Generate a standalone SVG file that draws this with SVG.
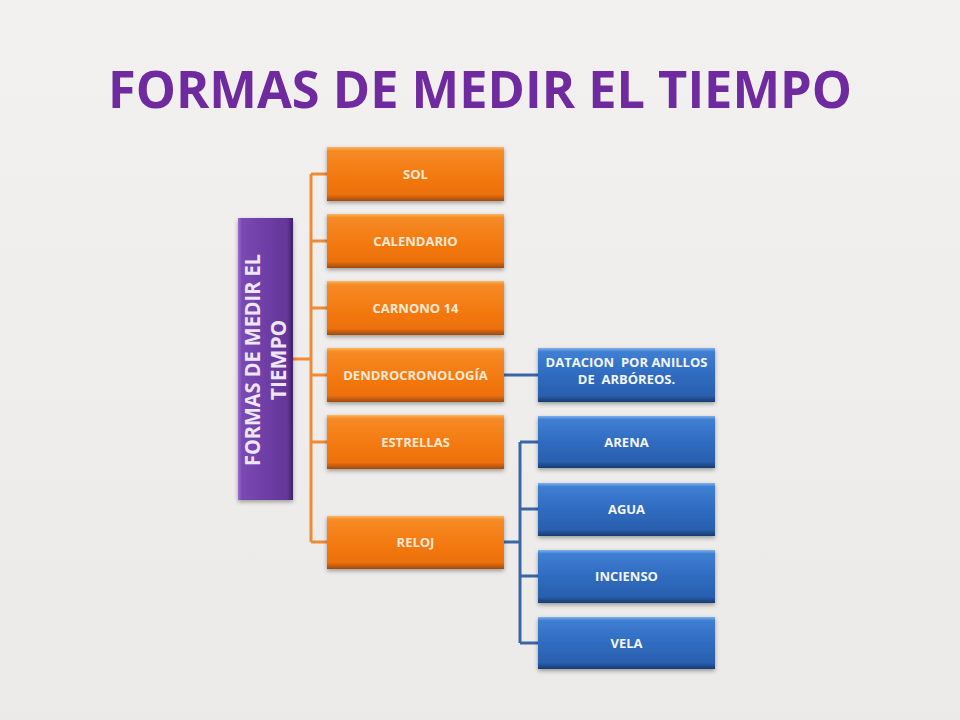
<svg xmlns="http://www.w3.org/2000/svg" width="960" height="720" viewBox="0 0 960 720">
<defs>
<linearGradient id="bg" x1="0" y1="0" x2="0" y2="1">
<stop offset="0" stop-color="#F2F1EF"/><stop offset="1" stop-color="#EBEAE8"/>
</linearGradient>
<linearGradient id="og" x1="0" y1="0" x2="0" y2="1">
<stop offset="0" stop-color="#FBB561"/><stop offset="0.07" stop-color="#F68A25"/><stop offset="0.5" stop-color="#F47B12"/><stop offset="0.88" stop-color="#EC700B"/><stop offset="1" stop-color="#9E4A08"/>
</linearGradient>
<linearGradient id="bgr" x1="0" y1="0" x2="0" y2="1">
<stop offset="0" stop-color="#7FB0EC"/><stop offset="0.07" stop-color="#3F7FD2"/><stop offset="0.5" stop-color="#2F6BC0"/><stop offset="0.88" stop-color="#2A60AE"/><stop offset="1" stop-color="#173C70"/>
</linearGradient>
<linearGradient id="pg" x1="0" y1="0" x2="1" y2="0">
<stop offset="0" stop-color="#9A6CD0"/><stop offset="0.07" stop-color="#7A4AB2"/><stop offset="0.5" stop-color="#6E3EA6"/><stop offset="0.9" stop-color="#643698"/><stop offset="1" stop-color="#3E1E66"/>
</linearGradient>
<filter id="sh" x="-10%" y="-10%" width="120%" height="140%">
<feDropShadow dx="0" dy="2" stdDeviation="2" flood-color="#000" flood-opacity="0.35"/>
</filter>
</defs>
<style>
.ol{fill:url(#og);filter:url(#sh)}
.bl{fill:url(#bgr);filter:url(#sh)}
.ot{font-family:"Open Sans","Liberation Sans",sans-serif;font-weight:bold;font-size:13px;fill:#FDE9D4;text-anchor:middle}
.bt{font-family:"Open Sans","Liberation Sans",sans-serif;font-weight:bold;font-size:13px;fill:#F4F6FA;text-anchor:middle}
.oc{stroke:#EF8A35;stroke-width:3;fill:none}
.bc{stroke:#3A66A8;stroke-width:3;fill:none}
</style>
<rect width="960" height="720" fill="url(#bg)"/>
<text x="480" y="108" font-family="'Open Sans','Liberation Sans',sans-serif" font-weight="bold" font-size="52" fill="#6E2A9E" text-anchor="middle" textLength="744" lengthAdjust="spacingAndGlyphs">FORMAS DE MEDIR EL TIEMPO</text>
<g id="connectors">
<path class="oc" d="M293 359H311M311 174V542M311 174H327M311 241H327M311 308H327M311 375H327M311 442H327M311 542H327"/>
<path class="bc" d="M504 375H538M504 542H520M520 442V643M520 442H538M520 509H538M520 576H538M520 643H538"/>
</g>
<g id="root">
<rect x="238" y="218" width="55" height="282" fill="url(#pg)" filter="url(#sh)"/>
<text transform="translate(0,360) rotate(-90)" font-family="'Open Sans','Liberation Sans',sans-serif" font-weight="bold" font-size="21" fill="#EDE6F5" text-anchor="middle"><tspan x="0" y="260" textLength="212" lengthAdjust="spacingAndGlyphs">FORMAS DE MEDIR EL</tspan><tspan x="0" y="286">TIEMPO</tspan></text>
</g>
<g id="sol"><rect class="ol" x="327" y="147" width="177" height="54"/><text class="ot" x="415.5" y="178.5">SOL</text></g>
<g id="calendario"><rect class="ol" x="327" y="214" width="177" height="54"/><text class="ot" x="415.5" y="245.5">CALENDARIO</text></g>
<g id="carnono"><rect class="ol" x="327" y="281" width="177" height="54"/><text class="ot" x="415.5" y="312.5">CARNONO 14</text></g>
<g id="dendro"><rect class="ol" x="327" y="348" width="177" height="54"/><text class="ot" x="415.5" y="379.5">DENDROCRONOLOGÍA</text></g>
<g id="estrellas"><rect class="ol" x="327" y="415" width="177" height="54"/><text class="ot" x="415.5" y="446.5">ESTRELLAS</text></g>
<g id="reloj"><rect class="ol" x="327" y="516" width="177" height="53"/><text class="ot" x="415.5" y="546.5">RELOJ</text></g>
<g id="datacion"><rect class="bl" x="538" y="348" width="177" height="54"/><text class="bt" font-size="12" xml:space="preserve"><tspan x="626.5" y="367">DATACION  POR ANILLOS</tspan><tspan x="626.5" y="383.5">DE  ARBÓREOS.</tspan></text></g>
<g id="arena"><rect class="bl" x="538" y="416" width="177" height="52"/><text class="bt" x="626.5" y="446.5">ARENA</text></g>
<g id="agua"><rect class="bl" x="538" y="483" width="177" height="53"/><text class="bt" x="626.5" y="513.5">AGUA</text></g>
<g id="incienso"><rect class="bl" x="538" y="550" width="177" height="53"/><text class="bt" x="626.5" y="580.5">INCIENSO</text></g>
<g id="vela"><rect class="bl" x="538" y="617" width="177" height="52"/><text class="bt" x="626.5" y="647.5">VELA</text></g>
</svg>
